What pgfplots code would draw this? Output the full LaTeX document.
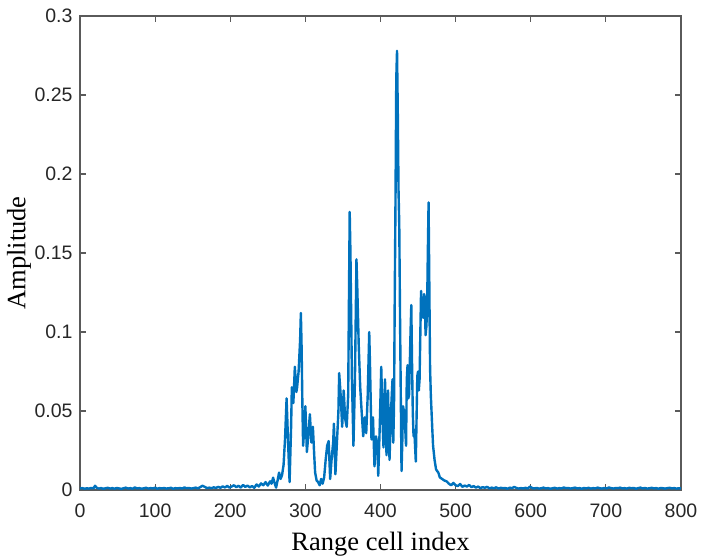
\documentclass[border=0pt]{standalone}
\usepackage{pgfplots}
\pgfplotsset{compat=1.18}
\usepackage{fontspec}
\setmainfont{Liberation Serif}
\newfontfamily\tickfont{Liberation Sans}
\definecolor{mblue}{RGB}{0,114,189}
\definecolor{axgray}{RGB}{90,90,90}
\definecolor{ticktext}{RGB}{38,38,38}
\pgfplotstableread{
x y
0 0.0010
3 0.0012
6 0.0008
9 0.0011
12 0.0009
15 0.0013
18 0.0010
20 0.0027
22 0.0015
25 0.0009
28 0.0012
31 0.0008
34 0.0011
37 0.0014
40 0.0009
43 0.0012
46 0.0008
49 0.0013
52 0.0010
55 0.0007
58 0.0011
61 0.0015
64 0.0009
67 0.0012
70 0.0008
73 0.0016
76 0.0010
79 0.0012
82 0.0008
85 0.0011
88 0.0014
91 0.0009
94 0.0012
97 0.0010
100 0.0015
103 0.0008
106 0.0012
109 0.0010
112 0.0013
115 0.0009
118 0.0011
121 0.0014
124 0.0008
127 0.0012
130 0.0010
133 0.0013
136 0.0009
139 0.0016
142 0.0011
145 0.0013
148 0.0009
151 0.0012
154 0.0015
157 0.0010
160 0.0018
163 0.0027
166 0.0020
169 0.0012
172 0.0015
175 0.0011
178 0.0017
181 0.0013
184 0.0020
187 0.0014
190 0.0023
193 0.0016
196 0.0026
199 0.0015
202 0.0022
205 0.0030
208 0.0018
211 0.0027
214 0.0015
217 0.0032
220 0.0020
223 0.0028
226 0.0017
229 0.0025
232 0.0014
235 0.0035
238 0.0022
241 0.0042
244 0.0030
247 0.0050
250 0.0028
253 0.0055
255 0.0040
257 0.0078
259 0.0045
261 0.0015
263 0.0060
265 0.0110
267 0.0070
269 0.0095
271 0.0160
273 0.0330
275 0.0580
277 0.0300
279 0.0050
281 0.0400
282 0.0650
284 0.0550
286 0.0780
288 0.0620
289 0.0650
291 0.0750
293 0.0950
294 0.1120
295 0.0900
296 0.0550
297 0.0280
299 0.0420
300 0.0530
302 0.0240
304 0.0350
306 0.0480
308 0.0300
310 0.0400
312 0.0200
313 0.0110
315 0.0060
317 0.0050
319 0.0030
321 0.0070
323 0.0040
325 0.0080
327 0.0190
329 0.0280
331 0.0310
333 0.0070
335 0.0200
337 0.0300
338 0.0420
340 0.0100
342 0.0300
344 0.0500
345 0.0740
347 0.0600
349 0.0400
351 0.0630
353 0.0450
355 0.0400
357 0.0600
358 0.1200
359 0.1760
360 0.1500
361 0.1100
362 0.0700
364 0.0280
366 0.0700
368 0.1460
369 0.1300
371 0.0920
373 0.0650
375 0.0490
377 0.0340
379 0.0460
381 0.0360
383 0.0600
385 0.1000
386 0.0800
388 0.0320
390 0.0460
392 0.0150
394 0.0340
396 0.0280
397 0.0090
399 0.0400
401 0.0780
403 0.0400
404 0.0270
406 0.0700
408 0.0220
410 0.0630
412 0.0190
414 0.0500
416 0.0700
417 0.0300
418 0.0530
419 0.1240
420 0.1850
421 0.2600
422 0.2780
423 0.2400
424 0.1900
425 0.1670
426 0.1100
427 0.0600
428 0.0120
429 0.0300
430 0.0530
432 0.0480
434 0.0280
435 0.0700
436 0.0790
437 0.0580
438 0.0600
440 0.1000
441 0.1170
442 0.0800
443 0.0490
444 0.0340
445 0.0380
447 0.0180
449 0.0720
450 0.0750
451 0.0630
452 0.0700
454 0.1260
455 0.1150
456 0.1100
457 0.1090
458 0.1240
459 0.1220
460 0.0980
461 0.1030
462 0.1130
463 0.1500
464 0.1820
465 0.1300
466 0.0770
467 0.0600
468 0.0490
469 0.0380
470 0.0280
472 0.0190
474 0.0130
477 0.0110
479 0.0080
482 0.0070
485 0.0060
488 0.0055
491 0.0040
494 0.0030
497 0.0045
500 0.0030
503 0.0025
506 0.0038
509 0.0020
512 0.0028
515 0.0022
518 0.0032
521 0.0018
524 0.0025
527 0.0015
530 0.0022
533 0.0012
536 0.0018
539 0.0014
542 0.0020
545 0.0010
548 0.0015
551 0.0011
554 0.0017
557 0.0009
560 0.0014
563 0.0011
566 0.0013
569 0.0008
572 0.0015
575 0.0011
578 0.0020
581 0.0013
584 0.0009
587 0.0012
590 0.0010
593 0.0014
596 0.0009
599 0.0022
602 0.0012
605 0.0010
608 0.0013
611 0.0009
614 0.0011
617 0.0015
620 0.0010
623 0.0012
626 0.0008
629 0.0011
632 0.0014
635 0.0009
638 0.0012
641 0.0010
644 0.0016
647 0.0011
650 0.0013
653 0.0009
656 0.0012
659 0.0015
662 0.0010
665 0.0012
668 0.0008
671 0.0013
674 0.0010
677 0.0014
680 0.0009
683 0.0012
686 0.0010
689 0.0015
692 0.0011
695 0.0009
698 0.0013
701 0.0010
704 0.0016
707 0.0012
710 0.0009
713 0.0013
716 0.0011
719 0.0015
722 0.0010
725 0.0012
728 0.0009
731 0.0014
734 0.0011
737 0.0013
740 0.0008
743 0.0012
746 0.0015
749 0.0010
752 0.0013
755 0.0009
758 0.0011
761 0.0014
764 0.0010
767 0.0012
770 0.0008
773 0.0013
776 0.0011
779 0.0009
782 0.0012
785 0.0014
788 0.0010
791 0.0012
794 0.0009
797 0.0011
800 0.0010
}\datatable
\begin{document}
\begin{tikzpicture}
\path[use as bounding box] (-80pt,-68pt) rectangle (622pt,490pt);
\begin{axis}[
  at={(0pt,0pt)}, anchor=south west,
  scale only axis, width=601pt, height=474pt,
  xmin=0, xmax=800, ymin=0, ymax=0.3,
  xtick={0,100,...,800},
  xticklabels={0,100,200,300,400,500,600,700,800},
  ytick={0,0.05,0.1,0.15,0.2,0.25,0.3},
  yticklabels={0,0.05,0.1,0.15,0.2,0.25,0.3},
  tick align=inside,
  major tick length=6pt,
  axis line style={axgray, line width=1.1pt},
  every tick/.style={axgray, line width=1.1pt},
  tick label style={font=\tickfont\fontsize{19.5}{22}\selectfont, text=ticktext},
  xticklabel style={yshift=-10pt},
  yticklabel style={xshift=-4pt},
  every axis x label/.style={at={(axis description cs:0.5,-0.114)}, anchor=center},
  every axis y label/.style={at={(axis description cs:-0.1015,0.5)}, rotate=90, anchor=center},
  label style={font=\fontsize{26.5}{30}\selectfont},
  xlabel={Range cell index},
  ylabel={Amplitude},
]
\addplot[mblue, line width=2.4pt, line join=round] table[x=x,y=y] {\datatable};
\end{axis}
\end{tikzpicture}
\end{document}
